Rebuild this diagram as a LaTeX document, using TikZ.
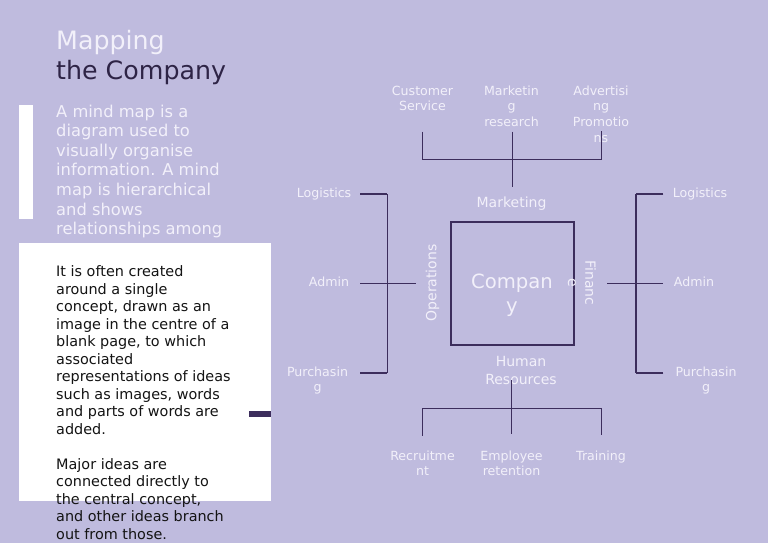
\documentclass[tikz,border=0pt]{standalone}
\usepackage{fontspec}
\setmainfont{DejaVu Sans}
\definecolor{bg}{RGB}{191,187,222}
\definecolor{lighttext}{RGB}{242,240,250}
\definecolor{linec}{RGB}{60,45,92}
\definecolor{titledark}{RGB}{46,36,70}
\definecolor{bodytext}{RGB}{20,20,20}
\begin{document}
\begin{tikzpicture}[x=1pt,y=-1pt,
  lbl/.style={text=lighttext,font=\fontsize{12.6}{15.7}\selectfont,align=center,inner sep=0pt,anchor=base},
  midlbl/.style={text=lighttext,font=\fontsize{14}{17.4}\selectfont,align=center,inner sep=0pt,anchor=base},
  conn/.style={draw=linec,line width=1.1pt},
  brk/.style={draw=linec,line width=1.9pt},
  bodyw/.style={text=lighttext,font=\fontsize{16.3}{19.55}\selectfont,align=left,inner sep=0pt,anchor=base west},
  bodyb/.style={text=bodytext,font=\fontsize{14.4}{17.5}\selectfont,align=left,inner sep=0pt,anchor=base west}]
\useasboundingbox (0,0) rectangle (768,543);
\fill[bg] (0,0) rectangle (768,543);

% title
\node[inner sep=0pt,anchor=base west,text=lighttext,font=\fontsize{25.3}{30}\selectfont] (t1) at (56,50) {Mapping};
\node[inner sep=0pt,anchor=base west,text=titledark,font=\fontsize{25.3}{30}\selectfont] (t2) at (56,80) {the Company};

% white vertical bar
\fill[white] (19.3,104.5) rectangle (32.7,219);

% white body text (anchored at the baseline of its last line)
\node[bodyw] (intro) at (56,234.6) {A mind map is a\\diagram used to\\visually organise\\information. A mind\\map is hierarchical\\and shows\\relationships among};

% white box
\fill[white] (18.5,242.7) rectangle (270.7,501);
\node[bodyb] (para1) at (56,539.3) {It is often created\\around a single\\concept, drawn as an\\image in the centre of a\\blank page, to which\\associated\\representations of ideas\\such as images, words\\and parts of words are\\added.\\[17.5pt]Major ideas are\\connected directly to\\the central concept,\\and other ideas branch\\out from those.};
\fill[linec] (248.5,411) rectangle (270.7,416.6);

% central concept
\node[draw=linec,line width=1.5pt,minimum width=123pt,minimum height=123pt,inner sep=0pt] (co) at (512.5,283.4) {};
\node[text=lighttext,font=\fontsize{19.6}{24.3}\selectfont,align=center,inner sep=0pt,anchor=base] (cot) at (512,312.6) {Compan\\y};

% main branches
\node[midlbl] (mkt) at (511.5,207.7) {Marketing};
\node[midlbl] (hr) at (521,384.1) {Human\\Resources};
\node[text=lighttext,font=\fontsize{14}{17.4}\selectfont,inner sep=0pt,rotate=90] (ops) at (432.5,283) {Operations};
\node[text=lighttext,font=\fontsize{14}{17.4}\selectfont,align=center,inner sep=0pt,rotate=-90] (fin) at (582,282.7) {Financ\\e};

% top sub-branches
\node[lbl] (cs) at (422.5,110.7) {Customer\\Service};
\node[lbl] (mr) at (511.5,126.4) {Marketin\\g\\research};
\node[lbl] (ap) at (601,142.1) {Advertisi\\ng\\Promotio\\ns};

% left sub-branches
\node[lbl] (lgL) at (324,197) {Logistics};
\node[lbl] (adL) at (329,286.7) {Admin};
\node[lbl] (puL) at (317.5,391.7) {Purchasin\\g};

% right sub-branches
\node[lbl] (lgR) at (700,197) {Logistics};
\node[lbl] (adR) at (694,286.7) {Admin};
\node[lbl] (puR) at (706,391.7) {Purchasin\\g};

% bottom sub-branches
\node[lbl] (rc) at (422.5,475.7) {Recruitme\\nt};
\node[lbl] (er) at (511.5,475.7) {Employee\\retention};
\node[lbl] (tr) at (601,460) {Training};

% connector points
\coordinate (tcs) at (422.3,131.7);
\coordinate (tmr) at (512.5,131.7);
\coordinate (tap) at (601.7,131);
\coordinate (tmk) at (512.5,186.7);
\coordinate (bhr) at (511.7,380);
\coordinate (brc) at (422.3,435.7);
\coordinate (ber) at (511.7,434);
\coordinate (btr) at (601.7,435);
\coordinate (lLg) at (360,194);
\coordinate (lAd) at (360,283.3);
\coordinate (lPu) at (360,372.7);
\coordinate (lOp) at (416,283.3);
\coordinate (rLg) at (663.3,194);
\coordinate (rAd) at (663.3,283.3);
\coordinate (rPu) at (663.3,372.7);
\coordinate (rFi) at (607.3,283.3);

% top tree
\draw[conn] (tcs) |- (tap |- 0,159.3) -- (tap);
\draw[conn] (tmr) -- (tmk);
% bottom tree
\draw[conn] (brc) |- (btr |- 0,408.3) -- (btr);
\draw[conn] (bhr) -- (ber);
% left bracket
\draw[conn] (387.3,194) -- (387.3,372.7);
\draw[brk] (lLg) -- (387.3,194);
\draw[brk] (lPu) -- (387.3,372.7);
\draw[conn] (lAd) -- (lOp);
% right bracket
\draw[conn] (636,194) -- (636,372.7);
\draw[brk] (rLg) -- (636,194);
\draw[brk] (rPu) -- (636,372.7);
\draw[conn] (rFi) -- (rAd);
\end{tikzpicture}
\end{document}
